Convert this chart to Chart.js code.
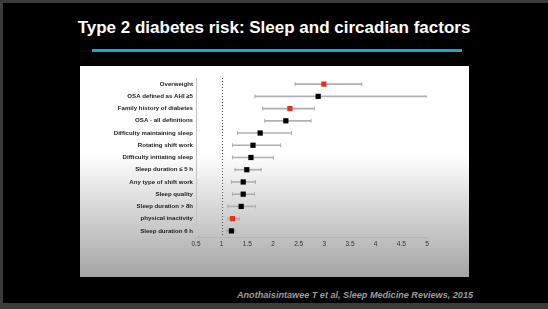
<!DOCTYPE html>
<html>
<head>
<meta charset="utf-8">
<script src="https://cdn.jsdelivr.net/npm/chart.js@4"></script>
<style>
  html, body { margin:0; padding:0; }
  body { width:548px; height:309px; background:#3b3b3b; position:relative; overflow:hidden; font-family:"Liberation Sans", Arial, sans-serif; }
  #slide { position:absolute; left:3px; top:3px; width:545px; height:300px; background:#000; }
  #title { position:absolute; left:0; top:18px; width:548px; text-align:center; color:#fff; font-weight:bold; font-size:17px; }
  #rule { position:absolute; left:92px; top:49px; width:370px; height:3px; background:#1aa6cf; }
  #panel { position:absolute; left:80px; top:66px; width:389px; height:211px;
    background:linear-gradient(to bottom, #ffffff 0%, #ffffff 42%, #a4a4a4 100%); }
  #cite { position:absolute; left:237px; top:290px; color:#9c9c9c; font-style:italic; font-weight:bold; font-size:9.1px; }
</style>
</head>
<body>
<div id="slide"></div>
<div id="title">Type 2 diabetes risk: Sleep and circadian factors</div>
<div id="rule"></div>
<div id="panel"><canvas id="chartForest" width="389" height="211"></canvas></div>
<div id="cite">Anothaisintawee T et al, Sleep Medicine Reviews, 2015</div>
<script>
const factors = [
  "Overweight", "OSA defined as AHI ≥5", "Family history of diabetes", "OSA - all definitions",
  "Difficulty maintaining sleep", "Rotating shift work", "Difficulty initiating sleep",
  "Sleep duration ≤ 5 h", "Any type of shift work", "Sleep quality", "Sleep duration > 8h",
  "physical inactivity", "Sleep duration 6 h"
];
const riskRatio = [2.99, 2.88, 2.33, 2.25, 1.75, 1.61, 1.57, 1.49, 1.42, 1.42, 1.38, 1.21, 1.19];
const ciLow     = [2.43, 1.65, 1.80, 1.84, 1.31, 1.21, 1.21, 1.26, 1.19, 1.21, 1.12, 1.12, 1.10];
const ciHigh    = [3.73, 5.02, 2.81, 2.74, 2.36, 2.15, 2.01, 1.77, 1.66, 1.64, 1.66, 1.34, 1.26];
const highlighted = [true, false, true, false, false, false, false, false, false, false, false, true, false];
const xTicks = [0.5, 1, 1.5, 2, 2.5, 3, 3.5, 4, 4.5, 5];

const markColor = highlighted.map(h => h ? "#e2311d" : "#000000");
const whiskerColor = "#b0b0b0";

const refLine = {
  id: "refLine",
  afterDatasetsDraw(chart){
    const {ctx, chartArea, scales} = chart;
    const x = Math.round(scales.x.getPixelForValue(1)) + 0.5;
    ctx.save();
    ctx.strokeStyle = "#555";
    ctx.lineWidth = 1;
    ctx.setLineDash([1, 2]);
    ctx.beginPath();
    ctx.moveTo(x, chartArea.top);
    ctx.lineTo(x, chartArea.bottom);
    ctx.stroke();
    ctx.restore();
  }
};

function makeForest(ctx){
  return new Chart(ctx, {
    type: "bar",
    data: {
      labels: factors,
      datasets: [
        {label:"CI", data: factors.map((_, i) => [ciLow[i], ciHigh[i]]), backgroundColor: whiskerColor,
          barThickness: 1, borderWidth: 0, order: 3},
        {type:"line", label:"low cap", data: ciLow, showLine:false, pointStyle:"line", rotation:90,
          pointRadius:2, borderColor: whiskerColor, borderWidth:1, order: 2},
        {type:"line", label:"high cap", data: ciHigh, showLine:false, pointStyle:"line", rotation:90,
          pointRadius:2, borderColor: whiskerColor, borderWidth:1, order: 2},
        {type:"line", label:"RR", data: riskRatio, showLine:false, pointStyle:"rect",
          pointRadius:3.7, pointBackgroundColor: markColor, pointBorderColor: markColor, borderWidth:0, order: 1},
      ]
    },
    options: {
      indexAxis: "y",
      responsive: false, animation: false,
      layout: { padding: { top: 12, right: 42, left: 0, bottom: 0 } },
      scales: {
        x: { type:"linear", min:0.5, max:5,
          afterBuildTicks: (s) => { s.ticks = xTicks.map(v => ({value: v})); },
          afterFit: (s) => { s.height = 40; },
          ticks: { color:"#333", font:{ size:6.5, family:"Liberation Sans" }, padding:3,
            callback: (v) => String(v) },
          grid: { display:false, drawTicks:false },
          border: { color:"#b5b5b5" } },
        y: { type:"category",
          afterFit: (s) => { s.width = 116; },
          ticks: { color:"#222", font:{ size:6.1, weight:"bold", family:"Liberation Sans" }, padding:3 },
          grid: { display:false, drawTicks:false },
          border: { color:"#c4c4c4" } }
      },
      plugins: { legend:{ display:false }, tooltip:{ enabled:false } }
    },
    plugins: [refLine]
  });
}

window.addEventListener("DOMContentLoaded", () => {
  makeForest(document.getElementById("chartForest"));
});
</script>
</body>
</html>
